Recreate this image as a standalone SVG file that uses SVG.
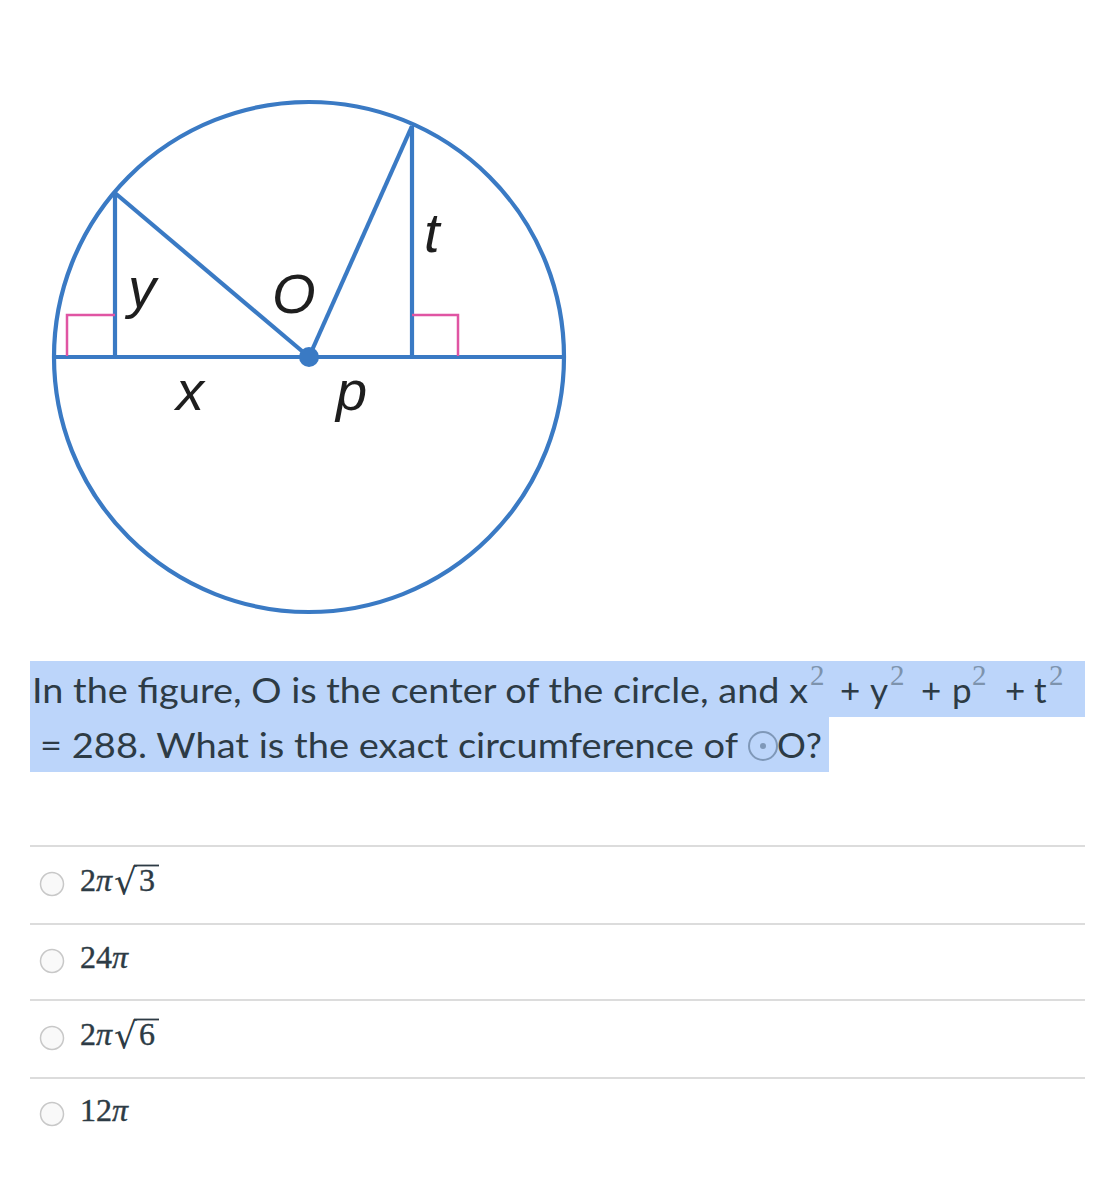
<svg xmlns="http://www.w3.org/2000/svg" width="1112" height="1188" viewBox="0 0 1112 1188">
<style>
.bl{fill:none;stroke:#3a7ac4;stroke-width:4.2}
.rt{fill:none;stroke:#e055a3;stroke-width:2.5}
.lab{font-family:"Liberation Sans",Arial,sans-serif;font-style:italic;font-size:56px;fill:#1e1e1e}
.q{font-family:Lato,"Liberation Sans",sans-serif;font-size:35px;fill:#2d3b45}
.sup{font-family:"Liberation Serif",serif;font-size:29px;fill:#7d93ad}
.hl{fill:#bcd5fa}
.sep{stroke:#dcdcdc;stroke-width:2}
.rad{fill:#f9f9f9;stroke:#c8c8c8;stroke-width:1.5}
.m{font-family:"Liberation Serif","DejaVu Serif",serif;font-size:32px;fill:#2d3b45;stroke:#2d3b45;stroke-width:0.4}
.mi{font-style:italic}
.sq{font-family:"DejaVu Serif",serif;font-size:36px;fill:#2d3b45}
</style>
<rect width="1112" height="1188" fill="#fff"/>
<g id="figure">
<circle class="bl" cx="309" cy="357" r="255"/>
<line class="bl" x1="54" y1="357" x2="564" y2="357"/>
<line class="bl" x1="115" y1="357" x2="115" y2="193"/>
<line class="bl" x1="115" y1="193" x2="309" y2="357"/>
<line class="bl" x1="412" y1="357" x2="412" y2="126"/>
<line class="bl" x1="412" y1="126" x2="309" y2="357"/>
<polyline class="rt" points="115,315 67,315 67,356"/>
<polyline class="rt" points="412,315 458,315 458,356"/>
<circle cx="309" cy="357" r="10" fill="#3a7ac4"/>
<text class="lab" x="128" y="307">y</text>
<text class="lab" x="272" y="313">O</text>
<text class="lab" x="424" y="252">t</text>
<text class="lab" x="176" y="410">x</text>
<text class="lab" x="336" y="410">p</text>
</g>
<g id="question">
<rect class="hl" x="30" y="661" width="1055" height="56"/>
<rect class="hl" x="30" y="717" width="799" height="55"/>
<text class="q" x="32" y="703" textLength="776" lengthAdjust="spacingAndGlyphs">In the figure, O is the center of the circle, and x</text>
<text class="sup" x="810" y="685">2</text>
<text class="q" x="840" y="703">+</text>
<text class="q" x="870" y="703">y</text>
<text class="sup" x="890" y="685">2</text>
<text class="q" x="921" y="703">+</text>
<text class="q" x="952" y="703">p</text>
<text class="sup" x="972" y="685">2</text>
<text class="q" x="1005" y="703">+</text>
<text class="q" x="1034" y="703">t</text>
<text class="sup" x="1049" y="685">2</text>
<text class="q" x="40" y="758" textLength="698" lengthAdjust="spacingAndGlyphs">= 288. What is the exact circumference of</text>
<circle cx="763" cy="746" r="14" fill="none" stroke="#7f98b8" stroke-width="2"/>
<circle cx="763" cy="746" r="3" fill="#7f98b8"/>
<text class="q" x="777" y="758" textLength="45" lengthAdjust="spacingAndGlyphs">O?</text>
</g>
<g id="answers">
<line class="sep" x1="30" y1="846" x2="1085" y2="846"/>
<line class="sep" x1="30" y1="924" x2="1085" y2="924"/>
<line class="sep" x1="30" y1="1000" x2="1085" y2="1000"/>
<line class="sep" x1="30" y1="1078" x2="1085" y2="1078"/>
<g id="opt1">
<circle class="rad" cx="52" cy="884" r="11.5"/>
<text class="m" x="80" y="891">2<tspan class="mi">π</tspan></text>
<text class="sq" x="114" y="894">√</text>
<line x1="134" y1="865.5" x2="159" y2="865.5" stroke="#2d3b45" stroke-width="1.8"/>
<text class="m" x="139" y="891">3</text>
</g>
<g id="opt2">
<circle class="rad" cx="52" cy="961" r="11.5"/>
<text class="m" x="80" y="968">24<tspan class="mi">π</tspan></text>
</g>
<g id="opt3">
<circle class="rad" cx="52" cy="1038" r="11.5"/>
<text class="m" x="80" y="1045">2<tspan class="mi">π</tspan></text>
<text class="sq" x="114" y="1048">√</text>
<line x1="134" y1="1019.5" x2="159" y2="1019.5" stroke="#2d3b45" stroke-width="1.8"/>
<text class="m" x="139" y="1045">6</text>
</g>
<g id="opt4">
<circle class="rad" cx="52" cy="1114" r="11.5"/>
<text class="m" x="80" y="1121">12<tspan class="mi">π</tspan></text>
</g>
</g>
</svg>
